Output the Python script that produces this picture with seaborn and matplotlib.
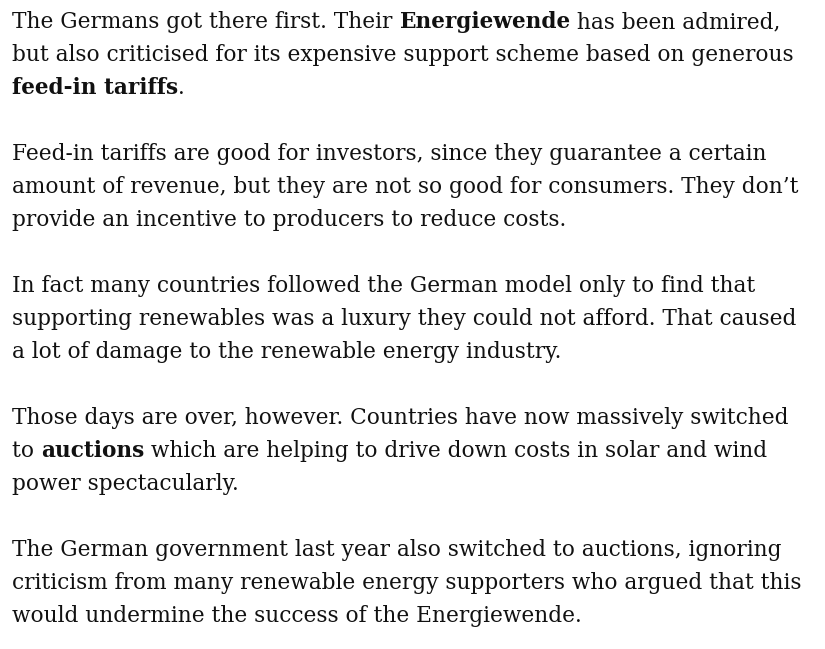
import matplotlib
matplotlib.use("Agg")
import matplotlib.pyplot as plt
import seaborn as sns

# paragraphs as wrapped lines; each line is a list of (text, bold) pieces
para_1 = [
    [("The Germans got there first. Their ", False), ("Energiewende", True), (" has been admired,", False)],
    [("but also criticised for its expensive support scheme based on generous", False)],
    [("feed-in tariffs", True), (".", False)],
]
para_2 = [
    [("Feed-in tariffs are good for investors, since they guarantee a certain", False)],
    [("amount of revenue, but they are not so good for consumers. They don\u2019t", False)],
    [("provide an incentive to producers to reduce costs.", False)],
]
para_3 = [
    [("In fact many countries followed the German model only to find that", False)],
    [("supporting renewables was a luxury they could not afford. That caused", False)],
    [("a lot of damage to the renewable energy industry.", False)],
]
para_4 = [
    [("Those days are over, however. Countries have now massively switched", False)],
    [("to ", False), ("auctions", True), (" which are helping to drive down costs in solar and wind", False)],
    [("power spectacularly.", False)],
]
para_5 = [
    [("The German government last year also switched to auctions, ignoring", False)],
    [("criticism from many renewable energy supporters who argued that this", False)],
    [("would undermine the success of the Energiewende.", False)],
]
paragraphs = [para_1, para_2, para_3, para_4, para_5]

W, H = 825, 649
LEFT = 12
FIRST_BASELINE = 28
LINE_STEP = 33
TARGET_WIDTH = 792  # width of the longest line in the reference

sns.set_theme(style="white")
plt.rcParams["font.family"] = ["DejaVu Serif"]

fig = plt.figure(figsize=(W / 100, H / 100), dpi=100)
ax = fig.add_axes([0, 0, 1, 1])
ax.set_xlim(0, W)
ax.set_ylim(H, 0)
ax.axis("off")
fig.canvas.draw()
renderer = fig.canvas.get_renderer()


def seg_width(s, bold, size):
    # pad with X on both sides so spaces at the ends are counted
    w = "bold" if bold else "normal"
    t1 = ax.text(0, 0, "X" + s + "X", fontsize=size, fontweight=w)
    t2 = ax.text(0, 0, "XX", fontsize=size, fontweight=w)
    width = t1.get_window_extent(renderer).width - t2.get_window_extent(renderer).width
    t1.remove()
    t2.remove()
    return width


# pick the font size so the longest line matches the reference width
probe = 10
longest = max(sum(seg_width(s, b, probe) for s, b in line)
              for para in paragraphs for line in para)
size = probe * TARGET_WIDTH / longest

row = 0
for para in paragraphs:
    for line in para:
        y = FIRST_BASELINE + LINE_STEP * row
        x = LEFT
        for s, b in line:
            ax.text(x, y, s, fontsize=size, fontweight="bold" if b else "normal",
                    color="#111111", va="baseline", ha="left")
            x += seg_width(s, b, size)
        row += 1
    row += 1

fig.savefig("out.png", dpi=100, facecolor="white")
